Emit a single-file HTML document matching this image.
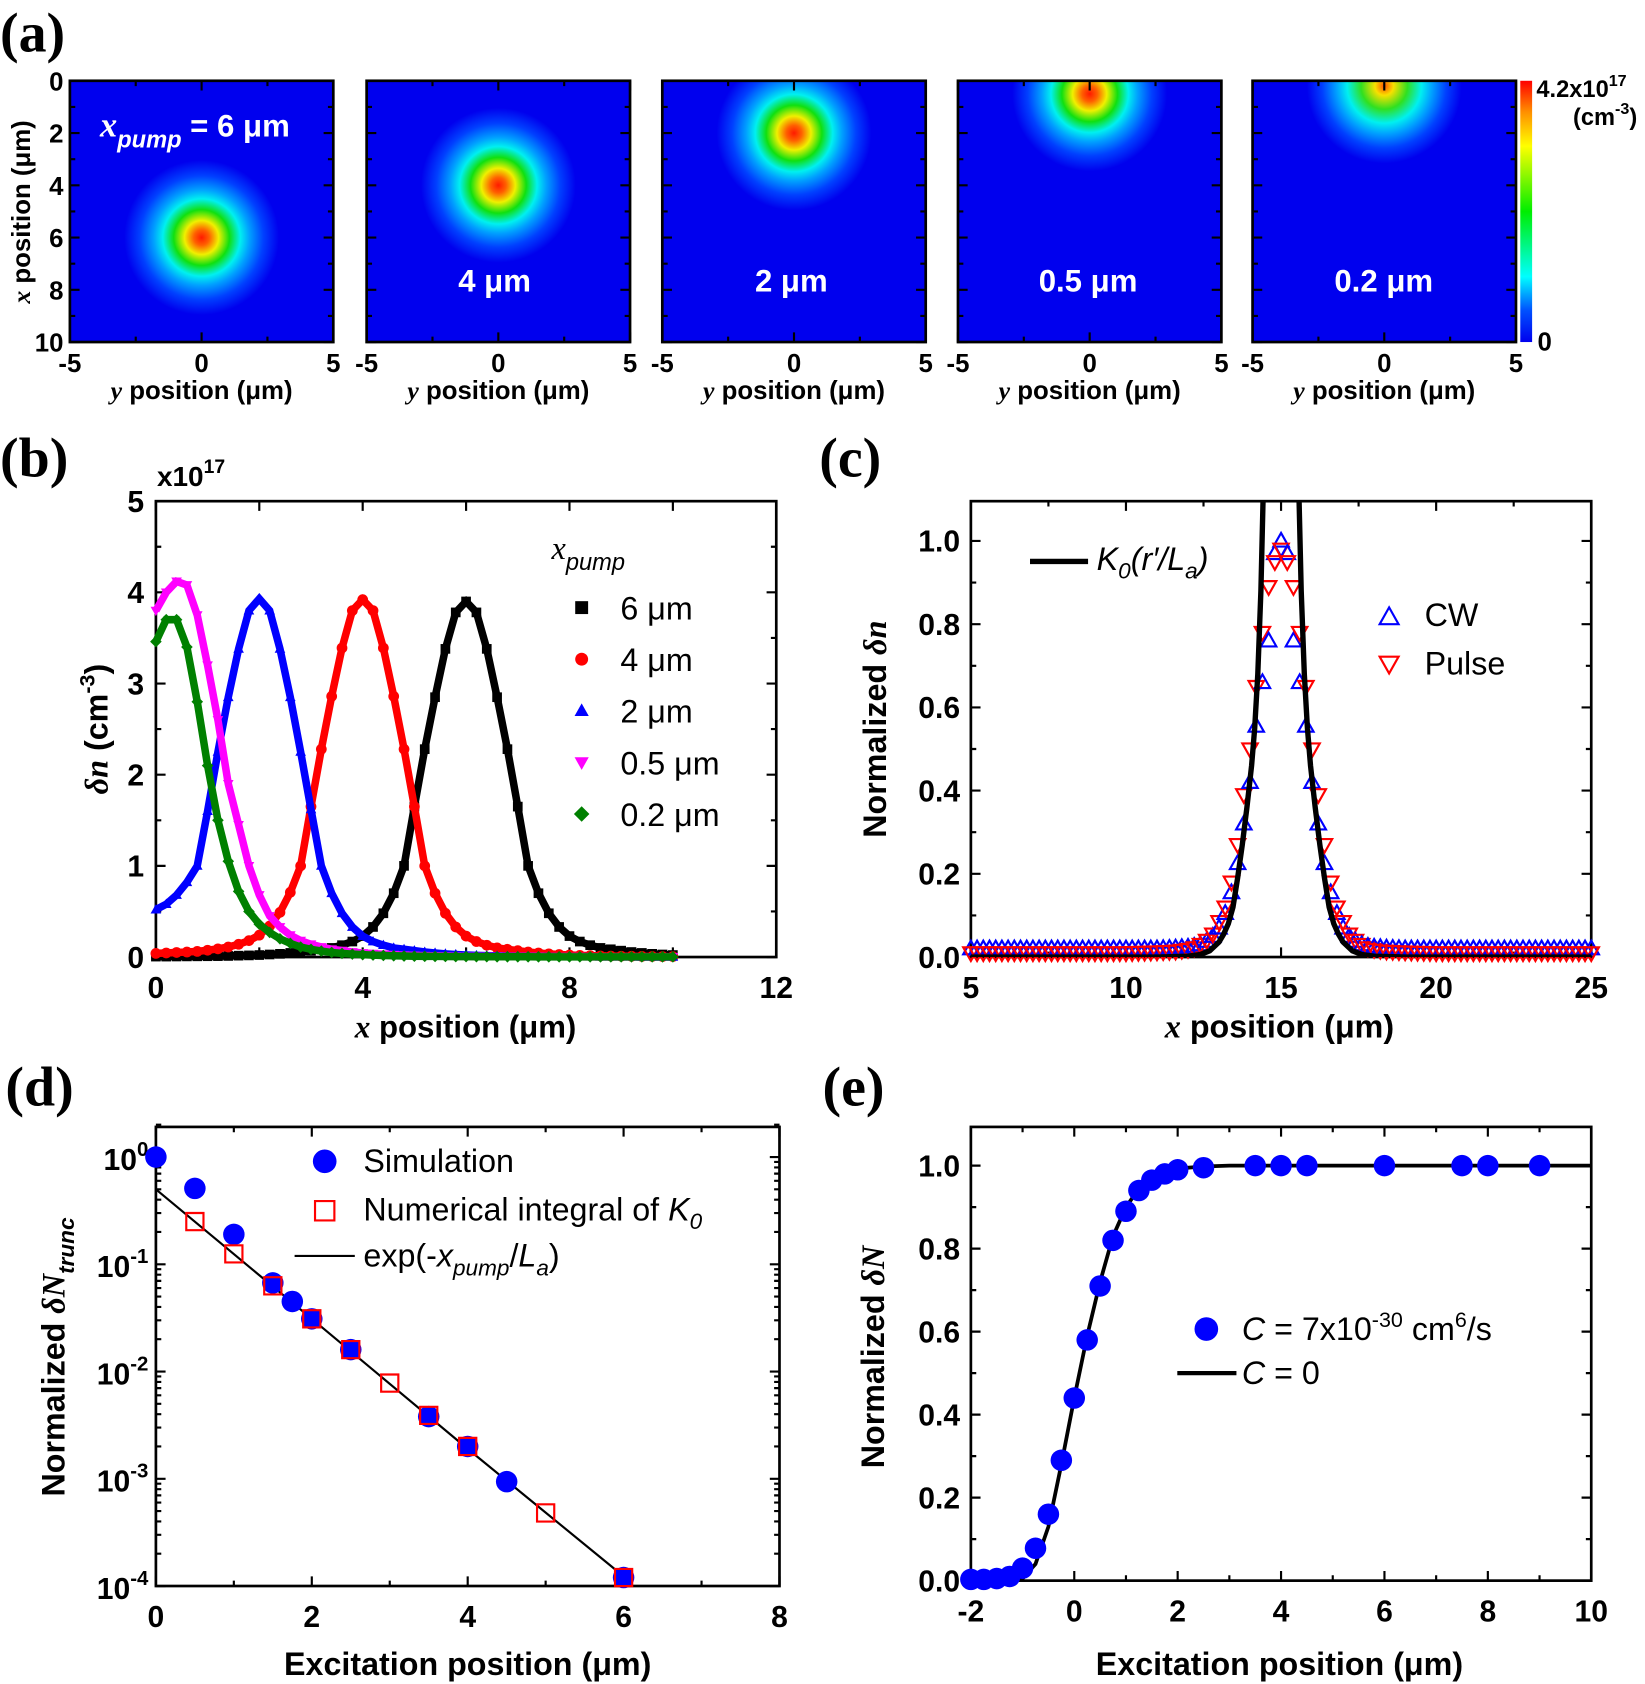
<!DOCTYPE html>
<html><head><meta charset="utf-8"><style>
html,body{margin:0;padding:0;background:#fff}
svg{display:block}
text{font-family:"Liberation Sans",sans-serif}
.tk{font-weight:bold;font-size:27px}
.tt{font-weight:bold;font-size:29px}
.pl{font-family:"Liberation Serif",serif;font-weight:bold;font-size:52px}
.lg{font-size:30px}
</style></head><body>
<svg id="fig" xmlns="http://www.w3.org/2000/svg" width="1645" height="1684" viewBox="0 0 1530 1566">
<defs>
<linearGradient id="cbar" x1="0" y1="1" x2="0" y2="0">
<stop offset="0" stop-color="#0000ee"/><stop offset="0.12" stop-color="#0050ff"/><stop offset="0.25" stop-color="#00ffff"/><stop offset="0.5" stop-color="#00ee00"/><stop offset="0.75" stop-color="#ffff00"/><stop offset="0.88" stop-color="#ff9000"/><stop offset="1" stop-color="#ff0000"/>
</linearGradient>
<radialGradient id="spotA">
<stop offset="0" stop-color="#ff1a00"/><stop offset="0.1" stop-color="#ff6000"/><stop offset="0.22" stop-color="#f0f000"/><stop offset="0.36" stop-color="#10e010"/><stop offset="0.5" stop-color="#00f0f0"/><stop offset="0.62" stop-color="#00a0ff"/><stop offset="0.8" stop-color="#0040ff"/><stop offset="1" stop-color="#0000ee"/>
</radialGradient>
<radialGradient id="spotB">
<stop offset="0" stop-color="#ff5000"/><stop offset="0.12" stop-color="#f8e000"/><stop offset="0.3" stop-color="#30e020"/><stop offset="0.48" stop-color="#00f0f0"/><stop offset="0.62" stop-color="#00a0ff"/><stop offset="0.8" stop-color="#0040ff"/><stop offset="1" stop-color="#0000ee"/>
</radialGradient>
</defs>
<text class="pl" x="0" y="48">(a)</text>
<text class="pl" x="0" y="443">(b)</text>
<text class="pl" x="762" y="443">(c)</text>
<text class="pl" x="5" y="1028">(d)</text>
<text class="pl" x="765" y="1028">(e)</text>
<g id="gA"></g>
<g id="gB"></g>
<g id="gC"></g>
<g id="gD"></g>
<g id="gE"></g>
<!-- panel a static text -->
<text x="93" y="127" fill="#fff" font-weight="bold" font-size="29"><tspan font-family="Liberation Serif" font-style="italic" font-size="32">x</tspan><tspan font-style="italic" font-size="22" dy="10">pump</tspan><tspan dy="-10"> = 6 μm</tspan></text>
<text x="460" y="271" fill="#fff" font-weight="bold" font-size="29" text-anchor="middle">4 μm</text>
<text x="736" y="271" fill="#fff" font-weight="bold" font-size="29" text-anchor="middle">2 μm</text>
<text x="1012" y="271" fill="#fff" font-weight="bold" font-size="29" text-anchor="middle">0.5 μm</text>
<text x="1287" y="271" fill="#fff" font-weight="bold" font-size="29" text-anchor="middle">0.2 μm</text>
<rect x="1414" y="75" width="11" height="243" fill="url(#cbar)"/>
<text x="1429" y="90" font-weight="bold" font-size="22">4.2x10<tspan font-size="15" dy="-10">17</tspan></text>
<text x="1463" y="116" font-weight="bold" font-size="22">(cm<tspan font-size="15" dy="-10">-3</tspan><tspan dy="10">)</tspan></text>
<text x="1430" y="326" font-weight="bold" font-size="24">0</text>
<text transform="translate(28,197) rotate(-90)" text-anchor="middle" font-weight="bold" font-size="24"><tspan font-family="Liberation Serif" font-style="italic">x</tspan> position (μm)</text>
<!-- panel b static -->
<text x="146" y="452" font-weight="bold" font-size="26">x10<tspan font-size="18" dy="-12">17</tspan></text>
<text transform="translate(100,678) rotate(-90)" text-anchor="middle" font-weight="bold" font-size="30"><tspan font-family="Liberation Serif" font-style="italic">δn</tspan> (cm<tspan font-size="20" dy="-12">-3</tspan><tspan dy="12">)</tspan></text>
<text x="433" y="965" text-anchor="middle" class="tt" font-size="30"><tspan font-family="Liberation Serif" font-style="italic">x</tspan> position (μm)</text>
<text x="513" y="520" font-size="30"><tspan font-family="Liberation Serif" font-style="italic">x</tspan><tspan font-style="italic" font-size="22" dy="10">pump</tspan></text>
<!-- panel c static -->
<text transform="translate(824,678) rotate(-90)" text-anchor="middle" font-weight="bold" font-size="30">Normalized <tspan font-family="Liberation Serif" font-style="italic">δn</tspan></text>
<text x="1190" y="965" text-anchor="middle" font-weight="bold" font-size="30"><tspan font-family="Liberation Serif" font-style="italic">x</tspan> position (μm)</text>
<line x1="958" y1="522" x2="1012" y2="522" stroke="#000" stroke-width="5"/>
<text x="1020" y="530" font-family="Liberation Serif" font-style="italic" font-size="30">K<tspan font-size="21" dy="8">0</tspan><tspan dy="-8">(r′/L</tspan><tspan font-size="21" dy="8">a</tspan><tspan dy="-8">)</tspan></text>
<text x="1325" y="582" font-size="30">CW</text>
<text x="1325" y="627" font-size="30">Pulse</text>
<!-- panel d static -->
<text transform="translate(60,1262) rotate(-90)" text-anchor="middle" font-weight="bold" font-size="30">Normalized <tspan font-family="Liberation Serif" font-style="italic">δN</tspan><tspan font-style="italic" font-size="21" dy="9">trunc</tspan></text>
<text x="435" y="1558" text-anchor="middle" font-weight="bold" font-size="30">Excitation position (μm)</text>
<text x="338" y="1090" font-size="30">Simulation</text>
<text x="338" y="1135" font-size="30">Numerical integral of <tspan font-style="italic">K</tspan><tspan font-style="italic" font-size="21" dy="8">0</tspan></text>
<line x1="274" y1="1168" x2="330" y2="1168" stroke="#000" stroke-width="2"/>
<text x="338" y="1178" font-size="30">exp(-<tspan font-style="italic">x</tspan><tspan font-style="italic" font-size="21" dy="8">pump</tspan><tspan dy="-8">/</tspan><tspan font-style="italic">L</tspan><tspan font-style="italic" font-size="21" dy="8">a</tspan><tspan dy="-8">)</tspan></text>
<!-- panel e static -->
<text transform="translate(822,1262) rotate(-90)" text-anchor="middle" font-weight="bold" font-size="30">Normalized <tspan font-family="Liberation Serif" font-style="italic">δN</tspan></text>
<text x="1190" y="1558" text-anchor="middle" font-weight="bold" font-size="30">Excitation position (μm)</text>
<circle cx="1122" cy="1236" r="11" fill="#0000ff"/>
<text x="1155" y="1246" font-size="30"><tspan font-style="italic">C</tspan> = 7x10<tspan font-size="20" dy="-12">-30</tspan><tspan dy="12"> cm</tspan><tspan font-size="20" dy="-12">6</tspan><tspan dy="12">/s</tspan></text>
<line x1="1095" y1="1277" x2="1150" y2="1277" stroke="#000" stroke-width="4"/>
<text x="1155" y="1287" font-size="30"><tspan font-style="italic">C</tspan> = 0</text>
</svg>
<script>
// ---------- data ----------
const mapCenters = [6, 4, 2, 0.5, 0.2];
const bX = [0,0.2,0.4,0.6,0.8,1,1.2,1.4,1.6,1.8,2,2.2,2.4,2.6,2.8,3,3.2,3.4,3.6,3.8,4,4.2,4.4,4.6,4.8,5,5.2,5.4,5.6,5.8,6,6.2,6.4,6.6,6.8,7,7.2,7.4,7.6,7.8,8,8.2,8.4,8.6,8.8,9,9.2,9.4,9.6,9.8,10];
const b6 = [.005,.005,.006,.007,.008,.009,.01,.012,.015,.018,.022,.028,.035,.045,.055,.07,.085,.10,.13,.17,.23,.33,.48,.70,1.0,1.65,2.28,2.85,3.38,3.78,3.9,3.78,3.38,2.85,2.28,1.65,1.0,.70,.48,.33,.23,.17,.13,.10,.085,.07,.055,.045,.035,.028,.022];
const b4 = [.04,.045,.05,.055,.062,.075,.09,.11,.14,.18,.24,.34,.49,.71,1.0,1.65,2.28,2.86,3.39,3.8,3.92,3.8,3.39,2.86,2.28,1.65,1.0,.70,.48,.33,.23,.17,.13,.10,.085,.07,.055,.045,.035,.028,.022,.018,.015,.012,.01,.009,.008,.007,.006,.005,.005];
const b2 = [.52,.58,.68,.82,1.0,1.6,2.25,2.85,3.38,3.8,3.93,3.8,3.38,2.85,2.25,1.62,1.0,.70,.48,.33,.23,.17,.13,.10,.085,.07,.055,.045,.035,.028,.022,.018,.015,.012,.01,.009,.008,.007,.006,.005,.005,.004,.004,.003,.003,.003,.003,.002,.002,.002,.002];
const b05 = [3.8,4.0,4.12,4.08,3.75,3.2,2.6,1.9,1.45,1.0,.68,.45,.33,.24,.18,.14,.11,.085,.07,.055,.045,.037,.03,.025,.02,.017,.014,.012,.01,.009,.008,.007,.006,.005,.005,.004,.004,.004,.003,.003,.003,.003,.002,.002,.002,.002,.002,.002,.002,.002,.002];
const b02 = [3.46,3.7,3.7,3.4,2.8,2.1,1.5,1.05,.72,.5,.36,.27,.2,.15,.11,.085,.065,.05,.04,.032,.026,.021,.017,.014,.011,.009,.008,.007,.006,.005,.005,.004,.004,.003,.003,.003,.003,.002,.002,.002,.002,.002,.002,.002,.002,.002,.002,.002,.002,.002,.002];
const bSeriesNames = ['6 μm','4 μm','2 μm','0.5 μm','0.2 μm'];
const cDist = [0,0.2,0.4,0.6,0.8,1.0,1.2,1.4,1.6,1.8,2.0,2.2,2.4,2.6,2.8,3.0,3.4,4,5,6,7,8,9,10];
const cCW = [1.0,.97,.76,.66,.555,.42,.32,.225,.155,.105,.07,.05,.038,.03,.026,.024,.022,.02,.02,.02,.02,.02,.02,.02];
const cPulse = [.98,.95,.89,.78,.65,.50,.39,.27,.18,.12,.085,.055,.04,.03,.022,.018,.014,.012,.01,.01,.01,.01,.01,.01];
const cLineDist = [0.58,0.65,0.75,0.85,0.95,1.1,1.25,1.4,1.55,1.7,1.85,2.0,2.3,2.6,3.0,4.0,10];
const cLineVal = [1.1,.88,.68,.55,.46,.36,.27,.19,.12,.08,.055,.036,.015,.006,.002,0,0];
const dSimX = [0,0.5,1,1.5,1.75,2,2.5,3.5,4,4.5,6];
const dSimY = [1.0,0.51,0.19,0.067,0.045,0.031,0.016,0.0038,0.002,0.00094,0.00012];
const dNumX = [0.5,1,1.5,2,2.5,3,3.5,4,5,6];
const dNumY = [0.25,0.125,0.063,0.031,0.016,0.0078,0.0039,0.002,0.00048,0.00012];
const dLineX = [0,2,4,6.05];
const dLineY = [0.5,0.031,0.0019,0.000115];
const eSimX = [-2,-1.75,-1.5,-1.25,-1,-0.75,-0.5,-0.25,0,0.25,0.5,0.75,1,1.25,1.5,1.75,2,2.5,3.5,4,4.5,6,7.5,8,9];
const eSimY = [.003,.003,.005,.01,.03,.078,.16,.29,.44,.58,.71,.82,.89,.94,.965,.98,.99,.995,1,1,1,1,1,1,1];
const eLineX = [-2,-1,-0.75,-0.5,-0.25,0,0.25,0.5,0.75,1,1.25,1.5,1.75,2,2.5,3,10];
const eLineY = [0,.005,.04,.13,.28,.44,.59,.72,.83,.9,.945,.97,.985,.993,.998,1,1];

// ---------- helpers ----------
const NS = 'http://www.w3.org/2000/svg';
function mk(parent, tag, attrs, name) {
  const e = document.createElementNS(NS, tag);
  for (const k in attrs) e.setAttribute(k, attrs[k]);
  
  
  parent.appendChild(e);
  return e;
}
function lin(d0, d1, r0, r1) { return v => r0 + (v - d0) * (r1 - r0) / (d1 - d0); }
function frame(g, x0, y0, x1, y1, xt, yt, xMinor, yMinor, sx, sy, name) {
  mk(g, 'rect', {x: x0, y: y0, width: x1 - x0, height: y1 - y0, fill: 'none', stroke: '#000', 'stroke-width': 2.5}, name + '-frame');
  let p = '';
  xt.forEach(v => { const X = sx(v); p += `M${X},${y1}v-9M${X},${y0}v9`; });
  yt.forEach(v => { const Y = sy(v); p += `M${x0},${Y}h9M${x1},${Y}h-9`; });
  xMinor.forEach(v => { const X = sx(v); p += `M${X},${y1}v-5M${X},${y0}v5`; });
  yMinor.forEach(v => { const Y = sy(v); p += `M${x0},${Y}h5M${x1},${Y}h-5`; });
  mk(g, 'path', {d: p, stroke: '#000', 'stroke-width': 2, fill: 'none'}, name + '-ticks');
}
function label(g, x, y, s, anchor, name, size) {
  const t = mk(g, 'text', {x: x, y: y, 'text-anchor': anchor, 'font-weight': 'bold', 'font-size': size || 28}, name);
  t.textContent = s;
  return t;
}
function marker(g, type, x, y, s, fill, stroke, name) {
  let d;
  if (type === 'sq') d = `M${x-s},${y-s}h${2*s}v${2*s}h${-2*s}z`;
  else if (type === 'up') d = `M${x},${y-s*1.15}L${x+s*1.1},${y+s*0.8}L${x-s*1.1},${y+s*0.8}z`;
  else if (type === 'down') d = `M${x},${y+s*1.15}L${x+s*1.1},${y-s*0.8}L${x-s*1.1},${y-s*0.8}z`;
  else if (type === 'dia') d = `M${x},${y-s*1.2}L${x+s*1.2},${y}L${x},${y+s*1.2}L${x-s*1.2},${y}z`;
  if (type === 'circ') return mk(g, 'circle', {cx: x, cy: y, r: s, fill: fill, stroke: stroke, 'stroke-width': 2}, name);
  return mk(g, 'path', {d: d, fill: fill, stroke: stroke, 'stroke-width': 2}, name);
}

// ---------- panel a ----------
const gA = document.getElementById('gA');
const mapLefts = [65, 341, 616, 891, 1165];
mapCenters.forEach((c, i) => {
  const x0 = mapLefts[i], y0 = 75, w = 245, h = 243;
  const sx = lin(-5, 5, x0, x0 + w), sy = lin(0, 10, y0, y0 + h);
  const cp = mk(document.querySelector('defs'), 'clipPath', {id: 'clip' + i}, 'map-clip');
  mk(cp, 'rect', {x: x0, y: y0, width: w, height: h}, 'map-clip-rect');
  mk(gA, 'rect', {x: x0, y: y0, width: w, height: h, fill: '#0000ee'}, 'map-background-' + i);
  mk(gA, 'circle', {cx: sx(0), cy: sy(c), r: 72, fill: i === 4 ? 'url(#spotB)' : 'url(#spotA)', 'clip-path': `url(#clip${i})`}, 'carrier-spot-' + i);
  frame(gA, x0, y0, x0 + w, y0 + h, [-5, 0, 5], [0, 2, 4, 6, 8, 10], [-2.5, 2.5], [1, 3, 5, 7, 9], sx, sy, 'map-' + i);
  [-5, 0, 5].forEach(v => label(gA, sx(v), 346, String(v), 'middle', 'map-x-tick-label', 24));
  const tt = mk(gA, 'text', {x: x0 + w / 2, y: 371, 'text-anchor': 'middle', 'font-weight': 'bold', 'font-size': 24}, 'map-x-title');
  tt.innerHTML = '<tspan font-family="Liberation Serif" font-style="italic">y</tspan> position (μm)';
  if (i === 0) [0, 2, 4, 6, 8, 10].forEach(v => label(gA, 59, sy(v) + 9, String(v), 'end', 'map-y-tick-label', 24));
});

// ---------- panel b ----------
const gB = document.getElementById('gB');
{
  const sx = lin(0, 12, 145, 722), sy = lin(0, 5, 890, 466);
  frame(gB, 145, 466, 722, 890, [0, 2, 4, 6, 8, 10, 12], [0, 1, 2, 3, 4, 5], [], [0.5, 1.5, 2.5, 3.5, 4.5], sx, sy, 'b');
  [0, 4, 8, 12].forEach(v => label(gB, sx(v), 928, String(v), 'middle', 'b-x-tick-label'));
  [0, 1, 2, 3, 4, 5].forEach(v => label(gB, 134, sy(v) + 10, String(v), 'end', 'b-y-tick-label'));
  const series = [b6, b4, b2, b05, b02];
  const cols = ['#000000', '#ff0000', '#0000ff', '#ff00ff', '#008000'];
  const types = ['sq', 'circ', 'up', 'down', 'dia'];
  series.forEach((vals, k) => {
    const pts = vals.map((v, j) => `${sx(bX[j])},${sy(v)}`).join(' ');
    mk(gB, 'polyline', {points: pts, fill: 'none', stroke: cols[k], 'stroke-width': 7}, 'b-series-line-' + k);
    vals.forEach((v, j) => marker(gB, types[k], sx(bX[j]), sy(v), k === 1 ? 5 : 4.5, cols[k], 'none', 'b-point'));
    marker(gB, types[k], 541, 565 + 48 * k, 6, cols[k], 'none', 'b-legend-marker-' + k);
    const t = mk(gB, 'text', {x: 577, y: 576 + 48 * k, 'font-size': 30}, 'b-legend-text-' + k);
    t.textContent = bSeriesNames[k];
  });
}

// ---------- panel c ----------
const gC = document.getElementById('gC');
{
  const sx = lin(5, 25, 903, 1480), sy = lin(0, 1, 890, 503);
  frame(gC, 903, 466, 1480, 890, [5, 10, 15, 20, 25], [0, 0.2, 0.4, 0.6, 0.8, 1.0], [7.5, 12.5, 17.5, 22.5], [0.1, 0.3, 0.5, 0.7, 0.9], sx, sy, 'c');
  [5, 10, 15, 20, 25].forEach(v => label(gC, sx(v), 928, String(v), 'middle', 'c-x-tick-label'));
  [0, 0.2, 0.4, 0.6, 0.8, 1.0].forEach(v => label(gC, 893, sy(v) + 10, v.toFixed(1), 'end', 'c-y-tick-label'));
  const cp = mk(document.querySelector('defs'), 'clipPath', {id: 'clipC'}, 'c-clip');
  mk(cp, 'rect', {x: 903, y: 466, width: 577, height: 424}, 'c-clip-rect');
  // dense markers at 0.2 um spacing, read from profile by distance
  function prof(ds, vs, d) { for (let i = 0; i < ds.length - 1; i++) if (d <= ds[i + 1]) return vs[i] + (vs[i + 1] - vs[i]) * (d - ds[i]) / (ds[i + 1] - ds[i]); return vs[vs.length - 1]; }
  for (let x = 5; x <= 25.001; x += 0.2) {
    const d = Math.abs(x - 15);
    marker(gC, 'up', sx(x), sy(prof(cDist, cCW, d)), 6.5, 'none', '#0000ff', 'c-cw-point');
    marker(gC, 'down', sx(x), sy(prof(cDist, cPulse, d)), 6.5, 'none', '#ff0000', 'c-pulse-point');
  }
  const left = cLineDist.slice().reverse().map((d, i) => `${sx(15 - d)},${sy(cLineVal[cLineDist.length - 1 - i])}`);
  const right = cLineDist.map((d, i) => `${sx(15 + d)},${sy(cLineVal[i])}`);
  mk(gC, 'polyline', {points: left.join(' '), fill: 'none', stroke: '#000', 'stroke-width': 5, 'clip-path': 'url(#clipC)'}, 'c-k0-line-left');
  mk(gC, 'polyline', {points: right.join(' '), fill: 'none', stroke: '#000', 'stroke-width': 5, 'clip-path': 'url(#clipC)'}, 'c-k0-line-right');
  marker(gC, 'up', 1292, 574, 8, 'none', '#0000ff', 'c-legend-cw-marker');
  marker(gC, 'down', 1292, 617, 8, 'none', '#ff0000', 'c-legend-pulse-marker');
}

// ---------- panel d ----------
const gD = document.getElementById('gD');
{
  const sx = lin(0, 8, 145, 725);
  const sy = v => 1475 - (Math.log10(v) + 4) * 99.75;
  const minors = [];
  for (let e = -4; e < 0; e++) for (let m = 2; m <= 9; m++) minors.push(m * Math.pow(10, e));
  minors.push(2);
  frame(gD, 145, 1048, 725, 1475, [0, 2, 4, 6, 8], [1e-4, 1e-3, 1e-2, 1e-1, 1], [1, 3, 5, 7], minors, sx, sy, 'd');
  [0, 2, 4, 6, 8].forEach(v => label(gD, sx(v), 1513, String(v), 'middle', 'd-x-tick-label'));
  [0, -1, -2, -3, -4].forEach(e => {
    const t = mk(gD, 'text', {x: 138, y: sy(Math.pow(10, e)) + 12, 'text-anchor': 'end', 'font-weight': 'bold', 'font-size': 28}, 'd-y-tick-label');
    t.innerHTML = `10<tspan font-size="19" dy="-13">${e}</tspan>`;
  });
  mk(gD, 'polyline', {points: dLineX.map((x, i) => `${sx(x)},${sy(dLineY[i])}`).join(' '), fill: 'none', stroke: '#000', 'stroke-width': 2}, 'd-exp-line');
  dSimX.forEach((x, i) => marker(gD, 'circ', sx(x), sy(dSimY[i]), 10, '#0000ff', 'none', 'd-sim-point'));
  dNumX.forEach((x, i) => marker(gD, 'sq', sx(x), sy(dNumY[i]), 8, 'none', '#ff0000', 'd-num-point'));
  marker(gD, 'circ', 302, 1080, 11, '#0000ff', 'none', 'd-legend-sim-marker');
  marker(gD, 'sq', 302, 1126, 9, 'none', '#ff0000', 'd-legend-num-marker');
}

// ---------- panel e ----------
const gE = document.getElementById('gE');
{
  const sx = lin(-2, 10, 903, 1480), sy = lin(0, 1, 1470, 1084);
  frame(gE, 903, 1048, 1480, 1470, [-2, 0, 2, 4, 6, 8, 10], [0, 0.2, 0.4, 0.6, 0.8, 1.0], [-1, 1, 3, 5, 7, 9], [0.1, 0.3, 0.5, 0.7, 0.9], sx, sy, 'e');
  [-2, 0, 2, 4, 6, 8, 10].forEach(v => label(gE, sx(v), 1508, String(v), 'middle', 'e-x-tick-label'));
  [0, 0.2, 0.4, 0.6, 0.8, 1.0].forEach(v => label(gE, 893, sy(v) + 10, v.toFixed(1), 'end', 'e-y-tick-label'));
  mk(gE, 'polyline', {points: eLineX.map((x, i) => `${sx(x)},${sy(eLineY[i])}`).join(' '), fill: 'none', stroke: '#000', 'stroke-width': 3.5}, 'e-c0-line');
  eSimX.forEach((x, i) => marker(gE, 'circ', sx(x), sy(eSimY[i]), 10, '#0000ff', 'none', 'e-sim-point'));
}
</script>
</body></html>
